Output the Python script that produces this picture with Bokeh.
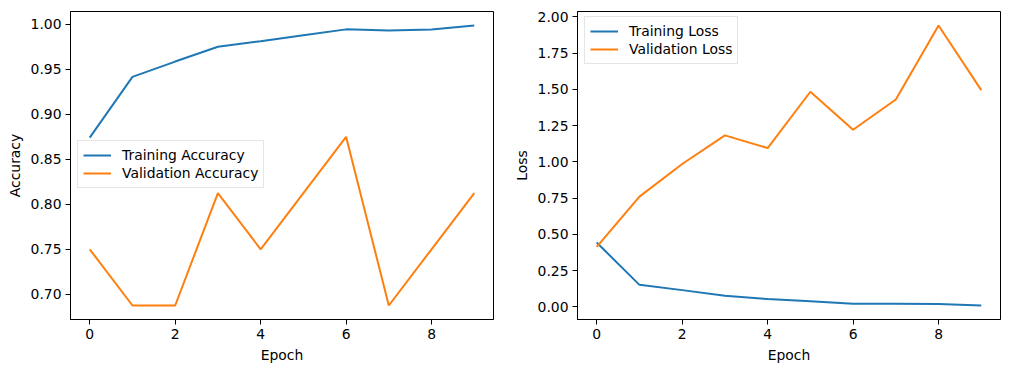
from bokeh.plotting import figure
from bokeh.layouts import row
from bokeh.models import Range1d, FixedTicker, NumeralTickFormatter, Legend, LegendItem
from bokeh.embed import file_html
from bokeh.resources import INLINE

epochs = [0, 1, 2, 3, 4, 5, 6, 7, 8, 9]
train_acc = [0.8742, 0.9417, 0.9587, 0.9751, 0.9814, 0.9880, 0.9945, 0.9932, 0.9943, 0.9988]
val_acc = [0.75, 0.6875, 0.6875, 0.8125, 0.75, 0.8125, 0.875, 0.6875, 0.75, 0.8125]
train_loss = [0.443, 0.1515, 0.115, 0.076, 0.053, 0.039, 0.021, 0.021, 0.020, 0.009]
val_loss = [0.413, 0.760, 0.985, 1.182, 1.095, 1.483, 1.221, 1.430, 1.940, 1.494]

x_ticks = [0, 2, 4, 6, 8]
acc_ticks = [0.70, 0.75, 0.80, 0.85, 0.90, 0.95, 1.00]
loss_ticks = [0.0, 0.25, 0.5, 0.75, 1.0, 1.25, 1.5, 1.75, 2.0]

BLUE = "#1f77b4"
ORANGE = "#ff7f0e"
FONT = "DejaVu Sans"
FS = "13.9px"


def pad_range(vals_list):
    lo = min(min(v) for v in vals_list)
    hi = max(max(v) for v in vals_list)
    m = (hi - lo) * 0.05
    return Range1d(lo - m, hi + m)


def make_fig(width, left, right, ys, names, ylabel, yticks, legend_loc):
    p = figure(width=width, height=368, output_backend="svg", toolbar_location=None,
               x_range=Range1d(-0.45, 9.45), y_range=pad_range(ys),
               min_border_left=left, min_border_right=right, min_border_top=11,
               min_border_bottom=49)
    p.grid.visible = False
    p.outline_line_color = "black"
    p.outline_line_alpha = 1
    p.outline_line_width = 1
    p.background_fill_color = "white"
    p.border_fill_color = "white"
    for ax in (p.xaxis[0], p.yaxis[0]):
        ax.axis_line_color = "black"
        ax.major_tick_line_color = "black"
        ax.major_tick_out = 5
        ax.major_tick_in = 0
        ax.minor_tick_out = 0
        ax.minor_tick_in = 0
        ax.major_label_standoff = 4
        ax.major_label_text_font = FONT
        ax.major_label_text_font_size = FS
        ax.major_label_text_color = "black"
        ax.axis_label_text_font = FONT
        ax.axis_label_text_font_size = FS
        ax.axis_label_text_font_style = "normal"
        ax.axis_label_text_color = "black"
        ax.axis_label_standoff = 5
    p.xaxis.ticker = FixedTicker(ticks=x_ticks)
    p.yaxis.ticker = FixedTicker(ticks=yticks)
    p.yaxis.formatter = NumeralTickFormatter(format="0.00")
    p.xaxis.axis_label = "Epoch"
    p.yaxis.axis_label = ylabel
    r1 = p.line(epochs, ys[0], line_color=BLUE, line_width=2)
    r2 = p.line(epochs, ys[1], line_color=ORANGE, line_width=2)
    leg = Legend(items=[LegendItem(label=names[0], renderers=[r1]),
                        LegendItem(label=names[1], renderers=[r2])],
                 location=legend_loc)
    leg.label_text_font = FONT
    leg.label_text_font_size = FS
    leg.label_text_color = "black"
    leg.border_line_color = "#cccccc"
    leg.border_line_width = 1
    leg.background_fill_color = "white"
    leg.background_fill_alpha = 0.8
    leg.padding = 5
    leg.margin = 0
    leg.spacing = 0
    leg.glyph_width = 28
    leg.glyph_height = 18
    leg.label_height = 18
    leg.label_standoff = 11
    p.add_layout(leg)
    return p


p1 = make_fig(500, 70, 7, [train_acc, val_acc], ["Training Accuracy", "Validation Accuracy"],
              "Accuracy", acc_ticks, (7, 131))
p2 = make_fig(509, 77, 9, [train_loss, val_loss], ["Training Loss", "Validation Loss"],
              "Loss", loss_ticks, (7, 255))

layout = row(p1, p2)
open("out.html", "w").write(file_html(layout, INLINE))
